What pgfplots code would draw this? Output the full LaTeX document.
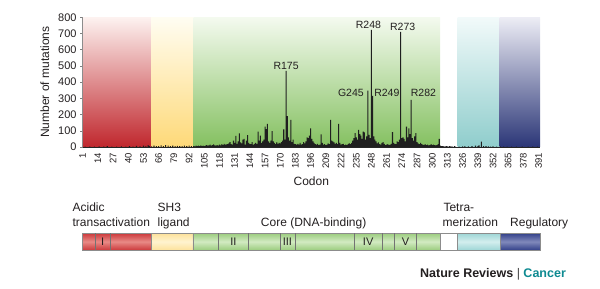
\documentclass[border=0pt]{standalone}
\usepackage{pgfplots}
\pgfplotsset{compat=1.18}
\usepackage{pgfplotstable}
\usepackage{fontspec}
\setmainfont{Liberation Sans}
\definecolor{txt}{HTML}{231F20}
\definecolor{bRed}{HTML}{C0272D}\definecolor{tRed}{HTML}{FDF2F0}
\definecolor{bYel}{HTML}{FED978}\definecolor{tYel}{HTML}{FFFDF2}
\definecolor{bGrn}{HTML}{84C060}\definecolor{tGrn}{HTML}{F4FAEF}
\definecolor{bCyn}{HTML}{8FCDCC}\definecolor{tCyn}{HTML}{F2FAFA}
\definecolor{bNav}{HTML}{2B3677}\definecolor{tNav}{HTML}{EDEDF5}
\definecolor{dRed}{HTML}{CC3A3C}\definecolor{lRed}{HTML}{E88A86}
\definecolor{dYel}{HTML}{FDE29C}\definecolor{lYel}{HTML}{FFF3CF}
\definecolor{dGrn}{HTML}{9CCD7F}\definecolor{lGrn}{HTML}{D2EAC2}
\definecolor{dCyn}{HTML}{9FD6D6}\definecolor{lCyn}{HTML}{D3EEEE}
\definecolor{dNav}{HTML}{34428A}\definecolor{lNav}{HTML}{8089BB}
\definecolor{teal}{HTML}{0E8A91}
\pgfplotstableread{
codon value
3 2
7 3
11 2
15 4
19 2
22 5
26 3
30 2
34 4
38 3
41 6
44 3
47 7
50 4
53 9
55 5
57 12
58 6
60 4
62 8
64 5
66 6
68 10
70 5
72 12
74 8
76 6
78 9
80 5
82 7
84 6
86 5
88 8
90 6
92 9
94 5
96 6
97 4
98 8
99 5
100 9
101 6
102 10
103 5
104 8
105 6
106 9
107 12
108 8
109 10
110 14
111 9
112 12
113 16
114 10
115 8
116 12
117 9
118 14
119 10
120 18
121 12
122 20
123 14
124 16
125 18
126 22
127 30
128 18
129 15
130 40
131 25
132 68
133 20
134 35
135 84
136 28
137 22
138 45
139 50
140 15
141 40
142 74
143 25
144 20
145 18
146 30
147 15
148 20
149 25
150 20
151 95
152 40
153 70
154 25
155 35
156 45
157 125
158 110
159 142
160 35
161 25
162 40
163 98
164 35
165 25
166 18
167 28
168 20
169 25
170 22
171 30
172 40
173 109
174 45
175 469
176 190
177 60
178 40
179 167
180 30
181 45
182 20
183 18
184 15
185 20
186 15
187 25
188 15
189 18
190 30
191 22
192 35
193 60
194 55
195 70
196 115
197 50
198 35
199 25
200 18
201 15
202 20
203 12
204 15
205 78
206 25
207 15
208 18
209 12
210 15
211 22
212 18
213 167
214 40
215 35
216 28
217 20
218 25
219 18
220 142
221 25
222 15
223 18
224 20
225 12
226 15
227 12
228 18
229 22
230 18
231 25
232 40
233 55
234 85
235 60
236 45
237 105
238 80
239 70
240 50
241 95
242 90
243 45
244 65
245 348
246 75
247 55
248 722
249 315
250 65
251 45
252 35
253 22
254 28
255 18
256 15
257 25
258 30
259 20
260 12
261 15
262 18
263 12
264 15
265 20
266 92
267 25
268 20
269 18
270 35
271 30
272 45
273 710
274 55
275 60
276 50
277 35
278 125
279 60
280 115
281 80
282 290
283 55
284 40
285 65
286 86
287 30
288 22
289 18
290 25
291 18
292 15
293 12
294 18
295 12
296 15
297 10
298 12
299 18
300 12
301 15
302 12
303 10
304 12
305 18
306 50
307 8
308 5
309 6
310 4
311 3
312 5
313 4
314 3
315 5
316 3
317 4
319 5
320 3
323 3
326 4
328 6
331 4
334 5
337 8
339 6
340 10
342 33
344 6
346 5
348 4
350 3
352 4
355 3
358 4
361 3
364 2
368 3
372 2
377 3
382 2
386 3
390 2
}\mut
\begin{document}
\begin{tikzpicture}
\path[use as bounding box] (0,0) rectangle (600pt,289pt);
\begin{axis}[
  at={(82.6pt,142pt)}, anchor=south west, scale only axis,
  width=457.4pt, height=129.7pt,
  xmin=0.9, xmax=392.2, ymin=0, ymax=800,
  axis x line*=bottom, axis y line*=left,
  axis line style={-}, x axis line style={black!85, line width=0.6pt},
  y axis line style={black!45, line width=0.6pt},
  axis on top=true, clip=false,
  xtick={1,14,...,391}, ytick={0,100,...,800},
  /pgf/number format/assume math mode=true,
  x tick style={draw=none}, y tick style={black!50, line width=0.5pt},
  tick align=outside, major tick length=2.5pt,
  xticklabel style={rotate=90, anchor=east, font=\fontsize{9.5}{10}\selectfont, text=txt},
  yticklabel style={font=\fontsize{11}{12}\selectfont, text=txt},
  xlabel={Codon}, ylabel={Number of mutations},
  label style={font=\fontsize{12}{14}\selectfont, text=txt},
  ylabel shift=2pt, xlabel shift=1pt,
]
\addplot[draw=none, bottom color=bRed, top color=tRed] coordinates {(0.9,0) (59.5,0) (59.5,800) (0.9,800)} -- cycle;
\addplot[draw=none, bottom color=bYel, top color=tYel] coordinates {(59.5,0) (95.8,0) (95.8,800) (59.5,800)} -- cycle;
\addplot[draw=none, bottom color=bGrn, top color=tGrn] coordinates {(95.8,0) (306.8,0) (306.8,800) (95.8,800)} -- cycle;
\addplot[draw=none, bottom color=bCyn, top color=tCyn] coordinates {(321.8,0) (357.7,0) (357.7,800) (321.8,800)} -- cycle;
\addplot[draw=none, bottom color=bNav, top color=tNav] coordinates {(357.7,0) (392.2,0) (392.2,800) (357.7,800)} -- cycle;
\addplot[ybar, bar width=0.9, fill=black!88, draw=none] table[x=codon, y=value] {\mut};
\begin{scope}[font=\fontsize{10.5}{12}\selectfont, text=txt, inner sep=1pt]
\node[anchor=south] at (axis cs:175,469) {R175};
\node[anchor=south, xshift=-3pt] at (axis cs:248,722) {R248};
\node[anchor=south, xshift=2pt] at (axis cs:273,710) {R273};
\node[anchor=east, xshift=-3pt] at (axis cs:245,332) {G245};
\node[anchor=west, xshift=0.5pt] at (axis cs:249,332) {R249};
\node[anchor=south west, xshift=-1.5pt, yshift=2pt] at (axis cs:282,290) {R282};
\end{scope}
\end{axis}
\begin{axis}[
  at={(82.6pt,39pt)}, anchor=south west, scale only axis,
  width=457.4pt, height=16.7pt,
  xmin=0.9, xmax=392.2, ymin=0, ymax=1, hide axis, clip=false,
]
\addplot[draw=black!45, line width=0.5pt, top color=dRed, bottom color=dRed, middle color=lRed] coordinates {(0.9,0) (59.8,0) (59.8,1) (0.9,1)} -- cycle;
\addplot[draw=black!45, line width=0.5pt, top color=dYel, bottom color=dYel, middle color=lYel] coordinates {(59.8,0) (95.3,0) (95.3,1) (59.8,1)} -- cycle;
\addplot[draw=black!45, line width=0.5pt, top color=dGrn, bottom color=dGrn, middle color=lGrn] coordinates {(95.3,0) (307.2,0) (307.2,1) (95.3,1)} -- cycle;
\addplot[draw=black!45, line width=0.5pt, fill=white] coordinates {(307.2,0) (321.5,0) (321.5,1) (307.2,1)} -- cycle;
\addplot[draw=black!45, line width=0.5pt, top color=dCyn, bottom color=dCyn, middle color=lCyn] coordinates {(321.5,0) (358,0) (358,1) (321.5,1)} -- cycle;
\addplot[draw=black!45, line width=0.5pt, top color=dNav, bottom color=dNav, middle color=lNav] coordinates {(358,0) (392.2,0) (392.2,1) (358,1)} -- cycle;
\addplot[black!55, line width=0.5pt] coordinates {(12,0) (12,1)};
\addplot[black!55, line width=0.5pt] coordinates {(24.3,0) (24.3,1)};
\addplot[black!55, line width=0.5pt] coordinates {(116.7,0) (116.7,1)};
\addplot[black!55, line width=0.5pt] coordinates {(143,0) (143,1)};
\addplot[black!55, line width=0.5pt] coordinates {(169.8,0) (169.8,1)};
\addplot[black!55, line width=0.5pt] coordinates {(182.5,0) (182.5,1)};
\addplot[black!55, line width=0.5pt] coordinates {(233,0) (233,1)};
\addplot[black!55, line width=0.5pt] coordinates {(257.4,0) (257.4,1)};
\addplot[black!55, line width=0.5pt] coordinates {(267.9,0) (267.9,1)};
\addplot[black!55, line width=0.5pt] coordinates {(286.5,0) (286.5,1)};
\begin{scope}[font=\fontsize{11}{12}\selectfont, text=txt]
\node at (axis cs:18.15,0.5) {I};
\node at (axis cs:129.85,0.5) {II};
\node at (axis cs:176.15,0.5) {III};
\node at (axis cs:245.2,0.5) {IV};
\node at (axis cs:277.2,0.5) {V};
\end{scope}
\begin{scope}[font=\fontsize{12}{14}\selectfont, text=txt, inner sep=0pt]
\node[anchor=base west, yshift=21.6pt] at (axis cs:-7.8,1) {Acidic};
\node[anchor=base west, yshift=6.6pt] at (axis cs:-7.8,1) {transactivation};
\node[anchor=base west, yshift=21.6pt] at (axis cs:64.9,1) {SH3};
\node[anchor=base west, yshift=6.6pt] at (axis cs:64.9,1) {ligand};
\node[anchor=base west, yshift=6.6pt] at (axis cs:153.3,1) {Core (DNA-binding)};
\node[anchor=base west, yshift=21.6pt] at (axis cs:309.5,1) {Tetra-};
\node[anchor=base west, yshift=6.6pt] at (axis cs:308.7,1) {merization};
\node[anchor=base west, yshift=6.6pt] at (axis cs:366.5,1) {Regulatory};
\end{scope}
\end{axis}
\node[anchor=base west, inner sep=0pt, font=\bfseries\fontsize{12.5}{14}\selectfont, text=txt] at (420pt,11pt) {Nature Reviews \textcolor{black!75}{\mdseries|} \textcolor{teal}{Cancer}};
\end{tikzpicture}
\end{document}
